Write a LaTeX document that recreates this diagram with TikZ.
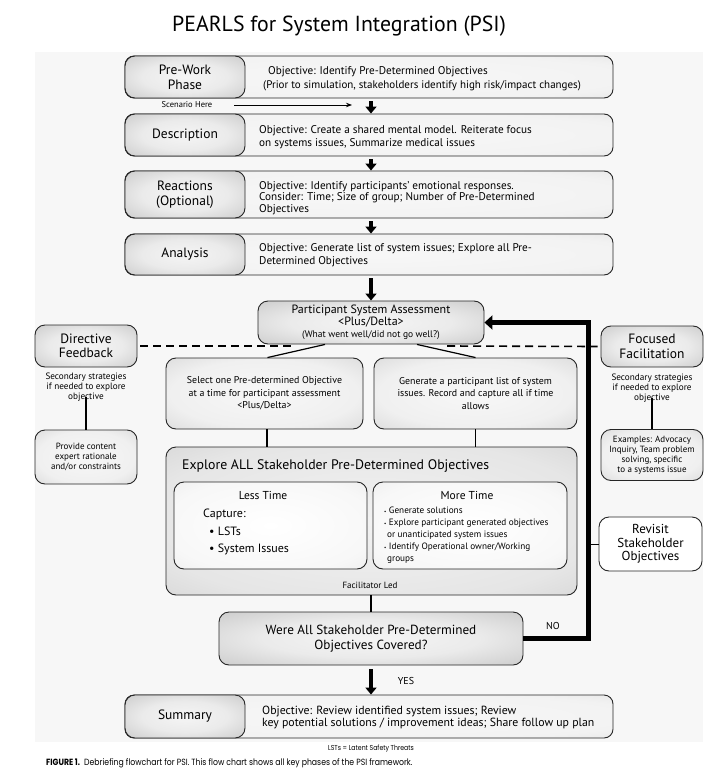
\documentclass[tikz,border=0pt]{standalone}
\usepackage{fontspec}
\setmainfont{PT Sans}
\newfontfamily\capfont[FakeStretch=0.86]{Poppins}
\usetikzlibrary{arrows.meta,calc}
\pgfdeclareradialshading{pillsh}{\pgfpointorigin}{color(0bp)=(black!4); color(18bp)=(black!8); color(36bp)=(black!20); color(50bp)=(black!40)}
\pgfdeclareradialshading{rowsh}{\pgfpointorigin}{color(0bp)=(black!3); color(28bp)=(black!5); color(44bp)=(black!12); color(50bp)=(black!21)}
\pgfdeclareradialshading{lightsh}{\pgfpointorigin}{color(0bp)=(black!3); color(24bp)=(black!6); color(42bp)=(black!17); color(50bp)=(black!28)}
\pgfdeclareradialshading{exploresh}{\pgfpointorigin}{color(0bp)=(black!5); color(28bp)=(black!10); color(44bp)=(black!19); color(50bp)=(black!28)}
\pgfdeclareradialshading{innersh}{\pgfpointorigin}{color(0bp)=(white); color(28bp)=(black!3); color(44bp)=(black!9); color(50bp)=(black!15)}
\tikzset{
  rowbox/.style={draw=black!85, line width=0.9pt, rounded corners=9pt,
    shade, shading=rowsh, minimum width=488pt},
  pill/.style={draw=black!85, line width=0.9pt, rounded corners=10pt,
    shade, shading=pillsh, align=center,
    font=\fontsize{13.5}{15}\selectfont},
  lightbox/.style={draw=black!85, line width=0.9pt, rounded corners=10pt,
    shade, shading=lightsh, align=center},
  objtext/.style={anchor=west, align=left, inner sep=0pt,
    font=\fontsize{11.2}{12.8}\selectfont},
  smalltext/.style={align=center, inner sep=0pt,
    font=\fontsize{9.2}{10}\selectfont},
  bigarrow/.style={line width=4pt, -{Triangle[width=11pt,length=7pt]}, shorten <=3pt},
  thinline/.style={line width=1.2pt},
  noline/.style={line width=5pt, line join=miter, -{Triangle[width=14pt,length=8pt]}},
  dashline/.style={line width=1.6pt, dash pattern=on 8pt off 5pt}
}
\begin{document}
\begin{tikzpicture}[x=1pt,y=-1pt]
\useasboundingbox (0,0) rectangle (724,778);
\fill[black!3] (35,52) rectangle (703,742);

% title
\node[font=\fontsize{21.8}{24}\selectfont] (title) at (339,26) {PEARLS for System Integration (PSI)};

% rows
\node[rowbox, minimum height=42pt] (prework) at (369,77) {};
\node[pill, minimum width=120pt, minimum height=42pt] (preworkL) at (185,77) {Pre-Work\\Phase};
\node[objtext] (preworkT) at (263,78.5) {\hspace*{5pt}Objective: Identify Pre-Determined Objectives\\[1pt]{\fontsize{11}{12}\selectfont(Prior to simulation, stakeholders identify high risk/impact changes)}};

\node[rowbox, minimum height=42pt] (desc) at (369,135) {};
\node[pill, minimum width=120pt, minimum height=42pt] (descL) at (185,135) {Description};
\node[objtext] (descT) at (259,137) {Objective: Create a shared mental model. Reiterate focus\\on systems issues, Summarize medical issues};

\node[rowbox, minimum height=47pt] (react) at (369,194.5) {};
\node[pill, minimum width=120pt, minimum height=47pt] (reactL) at (185,194.5) {Reactions\\(Optional)};
\node[objtext, font=\fontsize{11.2}{11.5}\selectfont] (reactT) at (259,198) {Objective: Identify participants’ emotional responses.\\Consider: Time; Size of group; Number of Pre-Determined\\Objectives};

\node[rowbox, minimum height=41pt] (analysis) at (369,254.5) {};
\node[pill, minimum width=120pt, minimum height=41pt] (analysisL) at (185,254.5) {Analysis};
\node[objtext] (analysisT) at (259,255.5) {Objective: Generate list of system issues; Explore all Pre-\\Determined Objectives};

\node[rowbox, minimum height=43pt] (summary) at (369,716.5) {};
\node[pill, minimum width=120pt, minimum height=43pt] (summaryL) at (185,716.5) {Summary};
\node[objtext, font=\fontsize{11.8}{12.8}\selectfont] (summaryT) at (262,717.5) {Objective: Review identified system issues; Review\\key potential solutions / improvement ideas; Share follow up plan};

% scenario
\node[font=\fontsize{8.5}{10}\selectfont, inner sep=0pt] (scen) at (187,105) {Scenario Here};
\coordinate (scenA) at (234,105);
\coordinate (scenB) at (352,105);
\draw[line width=0.9pt, -{Stealth[length=6pt,width=4.5pt]}] (scenA) -- (scenB);

% vertical big arrows
\draw[bigarrow] ([xshift=2pt]prework.south) -- ([xshift=2pt]desc.north);
\draw[bigarrow] ([xshift=2pt]desc.south) -- ([xshift=2pt]react.north);
\draw[bigarrow] ([xshift=2pt]react.south) -- ([xshift=2pt]analysis.north);

% participant system assessment
\node[pill, minimum width=226pt, minimum height=43pt, font=\fontsize{12}{12.5}\selectfont] (psa) at (371,322.5)
  {Participant System Assessment\\{}<Plus/Delta>\\[-0.5pt]{\fontsize{9.5}{10}\selectfont(What went well/did not go well?)}};
\draw[bigarrow] ([xshift=2pt]analysis.south) -- (psa.north);

% side panels
\node[pill, minimum width=102pt, minimum height=42pt, font=\fontsize{13.5}{14.5}\selectfont] (directive) at (86,346) {Directive\\Feedback};
\node[smalltext] (dirtext) at (86,387) {Secondary strategies\\if needed to explore\\objective};
\node[lightbox, minimum width=102pt, minimum height=54pt, font=\fontsize{9}{10}\selectfont] (provide) at (86,457) {Provide content\\expert rationale\\and/or constraints};
\draw[line width=1.8pt] ([yshift=4pt]dirtext.south) -- (provide.north);

\node[pill, minimum width=102pt, minimum height=41pt, font=\fontsize{13.5}{14.5}\selectfont] (focused) at (652,346.5) {Focused\\Facilitation};
\node[smalltext] (foctext) at (652,388) {Secondary strategies\\if needed to explore\\objective};
\node[lightbox, minimum width=102pt, minimum height=51pt, font=\fontsize{9}{10}\selectfont] (examples) at (652,455) {Examples: Advocacy\\Inquiry, Team problem\\solving, specific\\to a systems issue};
\draw[line width=1.8pt] ([yshift=4pt]foctext.south) -- (examples.north);

% dashed line
\draw[dashline] ([xshift=3pt]directive.east) -- ([xshift=-80pt]psa.south |- directive.east);
\draw[dashline] ([xshift=76pt]psa.south |- directive.east) -- ([xshift=-3pt]focused.west);

% two boxes
\node[lightbox, minimum width=197pt, minimum height=71pt, font=\fontsize{9.9}{12.5}\selectfont] (select) at (264.5,393.5) {Select one Pre-determined Objective\\at a time for participant assessment\\{}<Plus/Delta>};
\node[lightbox, minimum width=203pt, minimum height=71pt, font=\fontsize{9.9}{12.5}\selectfont] (generate) at (475.5,393.5) {Generate a participant list of system\\issues. Record and capture all if time\\allows};
\draw[thinline] ([xshift=-46pt]psa.south) -- ([xshift=3pt]select.north);
\draw[thinline] ([xshift=46pt]psa.south) -- ([xshift=0pt]generate.north);

% explore box
\node[lightbox, shading=exploresh, minimum width=411pt, minimum height=148pt] (explore) at (371.5,521) {};
\node[anchor=west, inner sep=0pt, font=\fontsize{13.8}{15}\selectfont] (exploreT) at (182,466) {Explore ALL Stakeholder Pre-Determined Objectives};
\node[lightbox, shading=innersh, minimum width=193pt, minimum height=87pt] (less) at (270.5,525.5) {};
\node[lightbox, shading=innersh, minimum width=194pt, minimum height=87pt] (more) at (470,525.5) {};
\node[inner sep=0pt, font=\fontsize{11.5}{13}\selectfont] (lessT) at (263,495) {Less Time};
\node[anchor=west, inner sep=0pt, align=left, font=\fontsize{12}{17.5}\selectfont] (lessL) at (203,532) {Capture:\\[0pt]\hspace*{6pt}\textbullet\ LSTs\\\hspace*{6pt}\textbullet\ System Issues};
\node[inner sep=0pt, font=\fontsize{11.5}{13}\selectfont] (moreT) at (467,495) {More Time};
\node[anchor=west, inner sep=0pt, align=left, font=\fontsize{9.2}{12}\selectfont] (moreL) at (384,535) {{\tiny\textbullet} Generate solutions\\{\tiny\textbullet} Explore participant generated objectives\\\hspace*{3pt}or unanticipated system issues\\{\tiny\textbullet} Identify Operational owner/Working\\\hspace*{3pt}groups};
\node[inner sep=0pt, font=\fontsize{9}{10}\selectfont] (facil) at (370,585) {Facilitator Led};
\draw[thinline] ([xshift=2.5pt]select.south) -- ([xshift=2.5pt]select.south |- explore.north);
\draw[thinline] ([xshift=0pt]generate.south) -- ([xshift=0pt]generate.south |- explore.north);

% question
\node[pill, minimum width=304pt, minimum height=53pt, font=\fontsize{13.2}{14.5}\selectfont] (question) at (371,638.5) {Were All Stakeholder Pre-Determined\\Objectives Covered?};
\draw[thinline] (explore.south -| question.north) -- (question.north);

% NO loop
\coordinate (noX) at (588,0);
\draw[noline] (question.east) -- (question.east -| noX) -- (psa.east -| noX) -- (psa.east);
\node[inner sep=0pt, font=\fontsize{10}{12}\selectfont] (nolab) at (553,626) {NO};
\node[draw=black!85, line width=0.9pt, rounded corners=10pt, fill=white, align=center, minimum width=103pt, minimum height=54pt, font=\fontsize{13}{13.5}\selectfont] (revisit) at (650.5,544) {Revisit\\Stakeholder\\Objectives};
\draw[line width=1pt] (revisit.west) -- (revisit.west -| noX);

% YES
\draw[bigarrow, shorten <=4pt] (question.south) -- (summary.north -| question.south);
\node[inner sep=0pt, font=\fontsize{10}{12}\selectfont] (yes) at (406,681) {YES};

% footnote and caption
\node[inner sep=0pt, font=\capfont\fontsize{7.2}{8}\selectfont] (lst) at (371,749) {LSTs = Latent Safety Threats};
\node[anchor=west, inner sep=0pt, font=\capfont\fontsize{9}{10}\selectfont] (caption) at (46,763) {\textbf{FIGURE 1.}\ \ Debriefing flowchart for PSI. This flow chart shows all key phases of the PSI framework.};
\end{tikzpicture}
\end{document}
